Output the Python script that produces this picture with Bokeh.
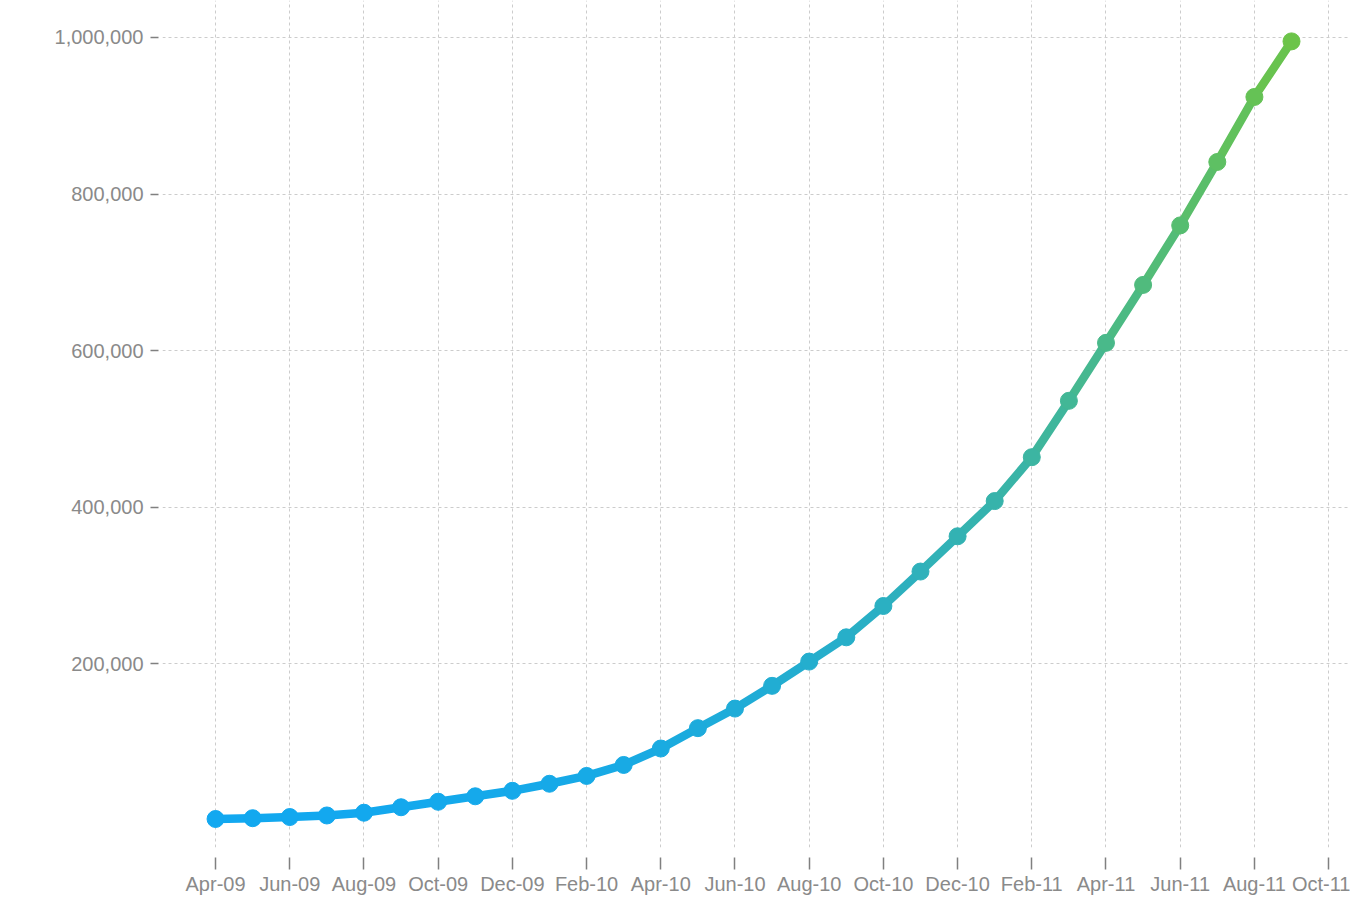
from bokeh.plotting import figure
from bokeh.models import FixedTicker, Range1d, ColumnDataSource, NumeralTickFormatter
from bokeh.embed import file_html
from bokeh.resources import INLINE

# --- data -----------------------------------------------------------------
months = ["Apr-09", "May-09", "Jun-09", "Jul-09", "Aug-09", "Sep-09", "Oct-09",
          "Nov-09", "Dec-09", "Jan-10", "Feb-10", "Mar-10", "Apr-10", "May-10",
          "Jun-10", "Jul-10", "Aug-10", "Sep-10", "Oct-10", "Nov-10", "Dec-10",
          "Jan-11", "Feb-11", "Mar-11", "Apr-11", "May-11", "Jun-11", "Jul-11",
          "Aug-11", "Sep-11"]
values = [2000, 3000, 4500, 6500, 10000, 17000, 24000, 31000, 38000, 47000,
          57000, 71000, 92000, 118000, 143000, 172000, 203000, 234000, 274000,
          318000, 363000, 408000, 464000, 536000, 610000, 684000, 760000,
          841000, 924000, 995000]
x_tick_labels = ["Apr-09", "Jun-09", "Aug-09", "Oct-09", "Dec-09", "Feb-10",
                 "Apr-10", "Jun-10", "Aug-10", "Oct-10", "Dec-10", "Feb-11",
                 "Apr-11", "Jun-11", "Aug-11", "Oct-11"]
y_ticks = [200000, 400000, 600000, 800000, 1000000]

# --- styling helpers ---------------------------------------------------------
c_start = (18, 168, 240)
c_end = (108, 196, 72)
vmax = 1000000.0


def grad(v):
    t = max(0.0, min(1.0, v / vmax))
    r, g, b = (round(a + (b_ - a) * t) for a, b_ in zip(c_start, c_end))
    return "#%02x%02x%02x" % (r, g, b)


xs = list(range(len(months)))
pt_colors = [grad(v) for v in values]

seg = ColumnDataSource(dict(
    x0=xs[:-1], y0=values[:-1], x1=xs[1:], y1=values[1:],
    c=[grad((values[i] + values[i + 1]) / 2) for i in range(len(values) - 1)],
))
pts = ColumnDataSource(dict(x=xs, y=values, c=pt_colors))

p = figure(width=1350, height=897, output_backend="svg", toolbar_location=None,
           x_range=Range1d(-1.43, 30.59), y_range=Range1d(-34400, 1047200),
           min_border_left=162, min_border_right=0, min_border_top=0,
           min_border_bottom=49)
p.outline_line_color = None
p.background_fill_color = "white"
p.border_fill_color = "white"

p.segment("x0", "y0", "x1", "y1", source=seg, line_color="c", line_width=8.5,
          line_cap="round")
p.scatter("x", "y", source=pts, size=17, fill_color="c", line_color="c")

# x axis
x_tick_pos = [months.index(m) if m in months else 30 for m in x_tick_labels]
p.xaxis.ticker = FixedTicker(ticks=x_tick_pos)
p.xaxis.major_label_overrides = {pos: lab for pos, lab in zip(x_tick_pos, x_tick_labels)}
p.xaxis.axis_line_color = None
p.xaxis.major_tick_in = -10
p.xaxis.major_tick_out = 22
p.xaxis.minor_tick_line_color = None
p.xaxis.major_tick_line_color = "#808080"
p.xaxis.major_tick_line_width = 1.5
p.xaxis.major_label_standoff = 3
p.xaxis.major_label_text_font = "Liberation Sans"
p.xaxis.major_label_text_font_size = "20px"
p.xaxis.major_label_text_color = "#8a8a8a"

# y axis
p.yaxis.ticker = FixedTicker(ticks=y_ticks)
p.yaxis.formatter = NumeralTickFormatter(format="0,0")
p.yaxis.axis_line_color = None
p.yaxis.major_tick_in = -4
p.yaxis.major_tick_out = 12
p.yaxis.minor_tick_line_color = None
p.yaxis.major_tick_line_color = "#808080"
p.yaxis.major_tick_line_width = 1.5
p.yaxis.major_label_standoff = 7
p.yaxis.major_label_text_font = "Liberation Sans"
p.yaxis.major_label_text_font_size = "20px"
p.yaxis.major_label_text_color = "#8a8a8a"

# grid
for g in (p.xgrid, p.ygrid):
    g.grid_line_color = "#cccccc"
    g.grid_line_dash = "3 3"
    g.grid_line_width = 1

open("out.html", "w").write(file_html(p, INLINE))
